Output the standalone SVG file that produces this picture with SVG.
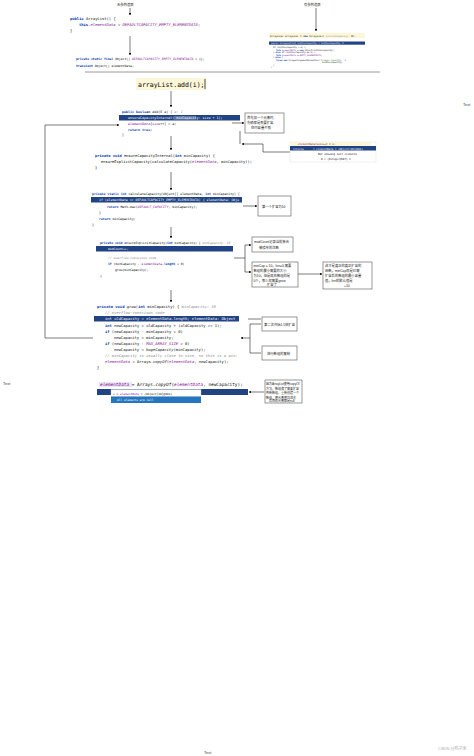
<svg xmlns="http://www.w3.org/2000/svg" width="474" height="756" viewBox="0 0 474 756">
<style>
.c{font-family:"DejaVu Sans Mono","Liberation Mono",monospace;fill:#080808}
.k{fill:#0033b3;font-weight:bold}
.p{fill:#871094;font-style:italic}
.g{fill:#8c8c8c;font-style:italic}
.w{fill:#ffffff}
.s{font-family:"Liberation Sans","Noto Sans CJK SC",sans-serif;font-size:3.3px;fill:#222}
.t{font-family:"Liberation Sans",sans-serif;font-size:4px;fill:#444}
.box{fill:#fff;stroke:#555;stroke-width:0.6}
.ln{fill:none;stroke:#222;stroke-width:0.6}
.hl{fill:#214283}
</style>
<defs>
<marker id="a" viewBox="0 0 6 6" refX="5" refY="3" markerWidth="4" markerHeight="4" orient="auto"><path d="M0,0L6,3L0,6z" fill="#111"/></marker>
</defs>
<rect width="474" height="756" fill="#fff"/>

<g id="connectors">
<line class="ln" x1="130" y1="8" x2="130" y2="15" marker-end="url(#a)"/>
<line class="ln" x1="316" y1="8" x2="316" y2="31" marker-end="url(#a)"/>
<line class="ln" x1="130" y1="36" x2="130" y2="55" marker-end="url(#a)"/>
<line x1="85" y1="72" x2="380" y2="72" stroke="#9a9a9a" stroke-width="1"/>
<line class="ln" x1="171" y1="91" x2="171" y2="107" marker-end="url(#a)"/>
<polyline class="ln" points="45,338 45,125 119,125" marker-end="url(#a)"/>
<line class="ln" x1="232" y1="123" x2="244" y2="123" marker-end="url(#a)"/>
<polyline class="ln" points="290,152 263,152 263,144 242,144" marker-end="url(#a)"/>
<polyline class="ln" points="240,131 240,144"/>
<line class="ln" x1="171" y1="136" x2="171" y2="150" marker-end="url(#a)"/>
<line class="ln" x1="171" y1="172" x2="171" y2="190" marker-end="url(#a)"/>
<line class="ln" x1="243" y1="206" x2="257" y2="206" marker-end="url(#a)"/>
<line class="ln" x1="171" y1="227" x2="171" y2="238" marker-end="url(#a)"/>
<line class="ln" x1="234" y1="258" x2="245" y2="258"/>
<polyline class="ln" points="245,245 245,272"/>
<line class="ln" x1="245" y1="245" x2="251" y2="245" marker-end="url(#a)"/>
<line class="ln" x1="245" y1="272" x2="251" y2="272" marker-end="url(#a)"/>
<line class="ln" x1="298" y1="274" x2="322" y2="274" marker-end="url(#a)"/>
<line class="ln" x1="171" y1="290" x2="171" y2="302" marker-end="url(#a)"/>
<line class="ln" x1="45" y1="338" x2="93" y2="338"/>
<line class="ln" x1="248" y1="319" x2="261" y2="319"/>
<polyline class="ln" points="261,324 250,324 250,353 261,353"/>
<line class="ln" x1="250" y1="338" x2="241" y2="338" marker-end="url(#a)"/>
<line class="ln" x1="264" y1="392" x2="249" y2="392" marker-end="url(#a)"/>
</g>

<g id="label-noarg"><text class="s" x="117" y="6">无参构造器</text></g>
<g id="label-arg"><text class="s" x="304" y="6">有参构造器</text></g>

<g id="ctor-noarg" font-size="3.8">
<text class="c" x="70" y="20"><tspan class="k">public</tspan> ArrayList() {</text>
<text class="c" x="79" y="26"><tspan class="k">this</tspan>.<tspan class="p">elementData</tspan> = <tspan class="p">DEFAULTCAPACITY_EMPTY_ELEMENTDATA</tspan>;</text>
<text class="c" x="70" y="32">}</text>
</g>

<g id="fields" font-size="3.1">
<text class="c" x="76" y="60"><tspan class="k">private static final</tspan> Object[] <tspan class="p">DEFAULTCAPACITY_EMPTY_ELEMENTDATA</tspan> = {};</text>
<text class="c" x="76" y="67"><tspan class="k">transient</tspan> Object[] elementData;</text>
</g>

<g id="ctor-arg" font-size="2.1">
<rect x="269" y="33" width="96" height="5" fill="#fdf6d8"/>
<text class="c" x="270" y="36.8" font-size="2.5">ArrayList arrayList = <tspan class="k">new</tspan> ArrayList( <tspan class="g">initialCapacity:</tspan> 8);</text>
<rect x="269" y="41.5" width="96" height="3.2" class="hl"/>
<text class="c w" x="271" y="44">public ArrayList(int initialCapacity) {   initialCapacity: 8</text>
<text class="c" x="273" y="48"><tspan class="k">if</tspan> (initialCapacity &gt; 0) {</text>
<text class="c" x="276" y="50.5"><tspan class="k">this</tspan>.<tspan class="p">elementData</tspan> = <tspan class="k">new</tspan> Object[initialCapacity];</text>
<text class="c" x="273" y="53">} <tspan class="k">else if</tspan> (initialCapacity == 0) {</text>
<text class="c" x="276" y="55.5"><tspan class="k">this</tspan>.<tspan class="p">elementData</tspan> = <tspan class="p">EMPTY_ELEMENTDATA</tspan>;</text>
<text class="c" x="273" y="58">} <tspan class="k">else</tspan> {</text>
<text class="c" x="276" y="60.5"><tspan class="k">throw new</tspan> IllegalArgumentException(<tspan fill="#067d17">"Illegal Capacity: "</tspan>+</text>
<text class="c" x="322" y="63">initialCapacity);</text>
<text class="c" x="273" y="65.5">}</text>
<text class="c" x="271" y="68">}</text>
</g>

<g id="add-call">
<rect x="136" y="78" width="70" height="12" fill="#fdf6d8"/>
<text x="138" y="86.5" font-family="'DejaVu Sans Mono','Liberation Mono',monospace" font-size="6.5" fill="#080808">arrayList.add(i);</text>
<line x1="205" y1="79" x2="205" y2="89" stroke="#000" stroke-width="0.7"/>
</g>

<g id="add-method" font-size="3.35">
<text class="c" x="122" y="113"><tspan class="k">public boolean</tspan> add(E e) {  <tspan class="g">e: 1</tspan></text>
<rect x="119" y="115" width="121" height="5.5" class="hl"/>
<rect x="174" y="116" width="22" height="3.8" fill="#5a74a8"/>
<text class="c w" x="128" y="119">ensureCapacityInternal( minCapacity: size + 1);</text>
<text class="c" x="128" y="125"><tspan class="p">elementData</tspan>[<tspan class="p">size</tspan>++] = e;</text>
<text class="c" x="128" y="131"><tspan class="k">return true</tspan>;</text>
<text class="c" x="122" y="136">}</text>
</g>

<g id="note-add">
<rect class="box" x="245" y="113" width="39" height="20"/>
<text class="s" x="247" y="119">首先加一个元素时,</text>
<text class="s" x="247" y="124">先确保是否要扩容,</text>
<text class="s" x="251" y="129">空间容量不够</text>
</g>

<g id="debug-popup" font-size="2.6">
<rect x="290" y="142" width="86" height="20" fill="#fff" stroke="#ddd" stroke-width="0.4"/>
<rect x="291" y="142" width="80" height="4" fill="#fdf6d8"/>
<text class="c" x="298" y="145.3"><tspan class="p">elementData</tspan>[<tspan class="p">size</tspan>++] = e;</text>
<rect x="290" y="146" width="86" height="4.5" fill="#214283"/>
<text class="c w" x="293" y="149.5">returns</text>
<text class="c w" x="313" y="149.5">= elementData = {Object[10]@461}</text>
<text class="c" x="318" y="154.5">Not showing null elements</text>
<text class="c" x="321" y="159.5" fill="#555">0 = {Integer@507} 1</text>
</g>

<g id="ensure-internal" font-size="3.7">
<text class="c" x="95" y="157"><tspan class="k">private void</tspan> ensureCapacityInternal(<tspan class="k">int</tspan> minCapacity) {</text>
<text class="c" x="101" y="163">ensureExplicitCapacity(calculateCapacity(<tspan class="p">elementData</tspan>, minCapacity));</text>
<text class="c" x="95" y="169">}</text>
</g>

<g id="calc-capacity" font-size="3.2">
<text class="c" x="92" y="195"><tspan class="k">private static int</tspan> calculateCapacity(Object[] elementData, <tspan class="k">int</tspan> minCapacity) {</text>
<rect x="91" y="197" width="151" height="5.5" class="hl"/>
<text class="c w" x="99" y="201">if (elementData == DEFAULTCAPACITY_EMPTY_ELEMENTDATA) {   elementData: Obje</text>
<text class="c" x="107" y="208"><tspan class="k">return</tspan> Math.<tspan font-style="italic">max</tspan>(<tspan class="p">DEFAULT_CAPACITY</tspan>, minCapacity);</text>
<text class="c" x="99" y="214">}</text>
<text class="c" x="99" y="220"><tspan class="k">return</tspan> minCapacity;</text>
<text class="c" x="92" y="226">}</text>
</g>

<g id="note-first">
<rect class="box" x="258" y="196" width="33" height="20"/>
<text class="s" x="262" y="207.5">第一个扩容为10</text>
</g>

<g id="ensure-explicit" font-size="3.1">
<text class="c" x="100" y="244"><tspan class="k">private void</tspan> ensureExplicitCapacity(<tspan class="k">int</tspan> minCapacity) {  <tspan class="g">minCapacity: 10</tspan></text>
<rect x="96" y="246" width="137" height="5.5" class="hl"/>
<text class="c w" x="108" y="250">modCount++;</text>
<text class="c g" x="108" y="259">// overflow-conscious code</text>
<text class="c" x="108" y="265"><tspan class="k">if</tspan> (minCapacity - <tspan class="p">elementData</tspan>.<tspan class="k">length</tspan> &gt; 0)</text>
<text class="c" x="115" y="271">grow(minCapacity);</text>
<text class="c" x="100" y="277">}</text>
</g>

<g id="note-modcount">
<rect class="box" x="252" y="237" width="41" height="15"/>
<text class="s" x="254" y="243">modCount记录当前集合</text>
<text class="s" x="259" y="248.5">被修改的次数</text>
</g>

<g id="note-mincap">
<rect class="box" x="252" y="262" width="46" height="25"/>
<text class="s" x="253.5" y="267">minCap = 10，len=0,需要</text>
<text class="s" x="253.5" y="272">数组的最小需要的大小</text>
<text class="s" x="253.5" y="277">为10，但是现在数组的是</text>
<text class="s" x="253.5" y="282">0个，那么就需要grow</text>
<text class="s" x="267" y="286.3">扩容了</text>
</g>

<g id="note-grow">
<rect class="box" x="323" y="262" width="49" height="27"/>
<text class="s" x="325" y="267">这才是真正的真正扩容的</text>
<text class="s" x="325" y="272">函数，minCap就是已需</text>
<text class="s" x="325" y="277">扩容后的数组的最小容量</text>
<text class="s" x="325" y="282">值，len的默认值是</text>
<text class="s" x="344" y="287">+10</text>
</g>

<g id="grow-method" font-size="3.8">
<text class="c" x="97" y="308"><tspan class="k">private void</tspan> grow(<tspan class="k">int</tspan> minCapacity) {  <tspan class="g">minCapacity: 10</tspan></text>
<text class="c g" x="105" y="314">// overflow-conscious code</text>
<rect x="94" y="316" width="145" height="5.5" class="hl"/>
<text class="c w" x="105" y="320">int oldCapacity = elementData.length;  elementData: Object</text>
<text class="c" x="105" y="327"><tspan class="k">int</tspan> newCapacity = oldCapacity + (oldCapacity &gt;&gt; 1);</text>
<text class="c" x="105" y="333"><tspan class="k">if</tspan> (newCapacity - minCapacity &lt; 0)</text>
<text class="c" x="114" y="339">newCapacity = minCapacity;</text>
<text class="c" x="105" y="345"><tspan class="k">if</tspan> (newCapacity - <tspan class="p">MAX_ARRAY_SIZE</tspan> &gt; 0)</text>
<text class="c" x="114" y="351">newCapacity = <tspan font-style="italic">hugeCapacity</tspan>(minCapacity);</text>
<text class="c g" x="105" y="357">// minCapacity is usually close to size, so this is a win:</text>
<text class="c" x="105" y="363"><tspan class="p">elementData</tspan> = Arrays.<tspan font-style="italic">copyOf</tspan>(<tspan class="p">elementData</tspan>, newCapacity);</text>
<text class="c" x="97" y="369">}</text>
</g>

<g id="note-15">
<rect class="box" x="262" y="317" width="35" height="14"/>
<text class="s" x="264" y="325.5">第二次开始1.5倍扩容</text>
</g>

<g id="note-copy">
<rect class="box" x="262" y="346" width="35" height="14"/>
<text class="s" x="267" y="354.5">进行数组的复制</text>
</g>

<g id="copy-line" font-size="4.4">
<rect x="99" y="382" width="33" height="5" fill="#ede4f5"/>
<text class="c" x="100" y="386"><tspan class="p">elementData</tspan> = Arrays.<tspan font-style="italic">copyOf</tspan>(<tspan class="p">elementData</tspan>, newCapacity);</text>
<rect x="97" y="389" width="151" height="6" class="hl"/>
<rect x="111" y="389.5" width="90" height="7" fill="#fff" stroke="#ccc" stroke-width="0.3"/>
<text class="c" x="113" y="394.5" font-size="2.9">+ ∞ <tspan class="p">elementData</tspan> = {Object[10]@461}</text>
<rect x="111" y="396.5" width="90" height="6.5" fill="#2675bf"/>
<text class="c w" x="117" y="401" font-size="2.9">All elements are null</text>
</g>

<g id="note-copyof">
<rect class="box" x="265" y="380" width="37" height="23"/>
<text class="s" x="266" y="385" style="font-size:3px">因为ArrayList使用copyOf</text>
<text class="s" x="266" y="389.5" style="font-size:3px">方法，数组满了需要扩容</text>
<text class="s" x="266" y="394" style="font-size:3px">到新数组，重新创建一个</text>
<text class="s" x="266" y="398.5" style="font-size:3px">数组，原元素拷贝进去</text>
<text class="s" x="269" y="402.3" style="font-size:3px">后面的元素都是null</text>
</g>

<g id="text-labels">
<text class="t" x="463" y="106">Text</text>
<text class="t" x="3" y="385">Text</text>
<text class="t" x="204" y="754">Text</text>
<text x="438" y="750" font-family="'Liberation Sans','Noto Sans CJK SC',sans-serif" font-size="4" fill="#aaa">CSDN @鸡子米</text>
</g>
</svg>
